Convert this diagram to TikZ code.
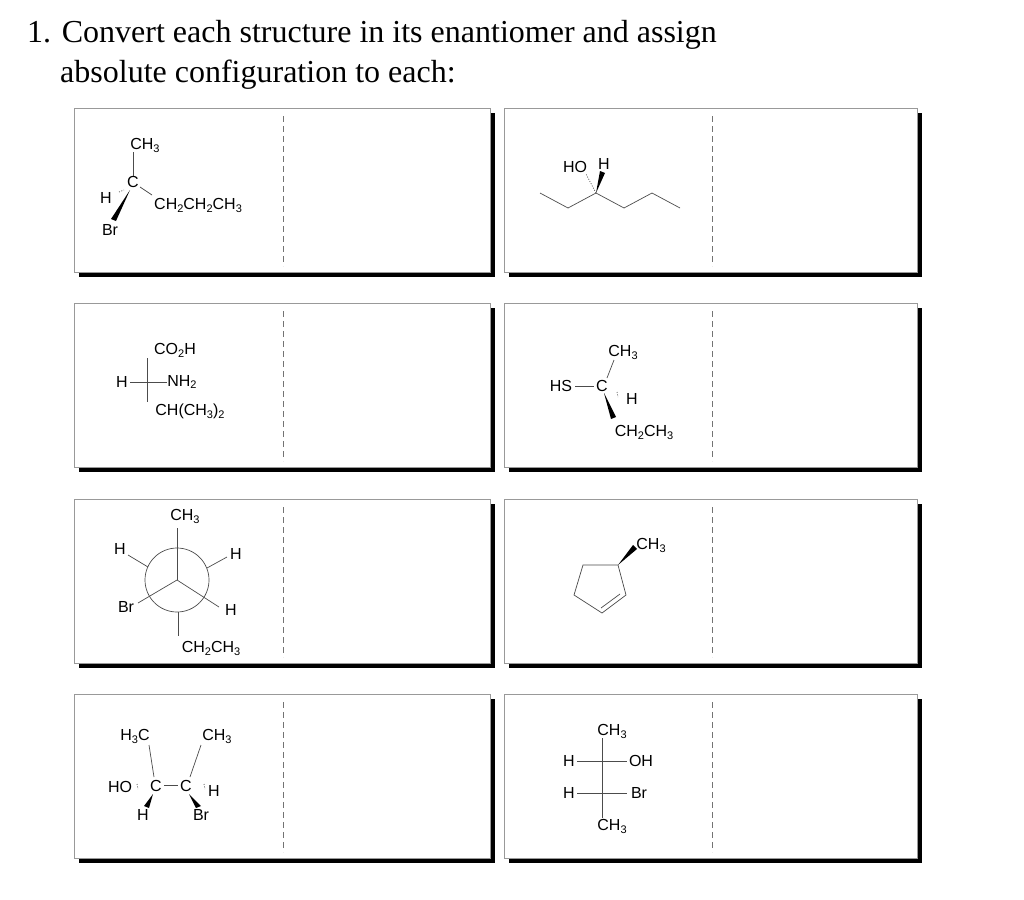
\documentclass[tikz,border=0pt]{standalone}
\usepackage{fontspec}
\setmainfont{Liberation Serif}
\newfontfamily\chem{Liberation Sans}
\newcommand\sbs[1]{\raisebox{-.35ex}{\fontsize{11}{11}\selectfont#1}}
\begin{document}
\begin{tikzpicture}[x=1pt,y=-1pt,
  lbl/.style={font=\chem\fontsize{16}{16}\selectfont,inner sep=0pt},
  bnd/.style={draw=black!70,line width=0.7pt},
  dsh/.style={draw=black!55,dashed,dash pattern=on 6pt off 4pt,line width=0.8pt},
  wdg/.style={fill=black},
  hsh/.style={draw=black!70,line width=0.7pt,dash pattern=on 1pt off 1.5pt}]
\useasboundingbox (0,0) rectangle (1024,899);
% title
\node[anchor=base west,inner sep=0pt,font=\fontsize{32}{32}\selectfont] (t1) at (27,42) {1. Convert each structure in its enantiomer and assign};
\node[anchor=base west,inner sep=0pt,font=\fontsize{32}{32}\selectfont] (t2) at (60,82) {absolute configuration to each:};
% boxes
\foreach \x/\y/\w/\d in {74/108/416/283, 504/108/413/712, 74/303/416/283, 504/303/413/712, 74/499/416/283, 504/499/413/712, 74/694/416/283, 504/694/413/712}{
  \fill[black] (\x+5,\y+5) rectangle (\x+\w+5,\y+169);
  \filldraw[fill=white,draw=black!40,line width=0.6pt] (\x,\y) rectangle (\x+\w,\y+164);
  \draw[dsh] (\d,\y+8) -- (\d,\y+158);
}
% ---- box 1
\node[lbl] (a1) at (145,145) {CH\sbs3};
\node[lbl] (a2) at (133,182) {C};
\node[lbl] (a3) at (106,198) {H};
\node[lbl,anchor=west] (a4) at (154,205) {CH\sbs2CH\sbs2CH\sbs3};
\node[lbl] (a5) at (110,230) {Br};
\draw[bnd] (133,152) -- (133,176);
\draw[bnd] (140,187) -- (152,195);
\fill (130,190) -- (111,219) -- (116,221) -- cycle;
\draw[hsh] (119,192) -- (124,190);
% ---- box 2
\node[lbl] (b1) at (575,167) {HO};
\node[lbl] (b2) at (604,164) {H};
\draw[bnd] (540,193) -- (568,208) -- (596,193) -- (624,208) -- (652,193) -- (680,208);
\fill (596,193) -- (600,171) -- (605,173) -- cycle;
\draw[hsh] (596,193) -- (586,174);
\coordinate (b3) at (596,193);
% ---- box 3 (Fischer)
\node[lbl] (c1) at (175,350) {CO\sbs2H};
\node[lbl] (c2) at (122,382) {H};
\node[lbl] (c3) at (182,382) {NH\sbs2};
\node[lbl] (c4) at (190,411) {CH(CH\sbs3)\sbs2};
\draw[bnd] (147,358) -- (147,402);
\draw[bnd] (130,382) -- (167,382);
% ---- box 4
\node[lbl] (d1) at (623,352) {CH\sbs3};
\node[lbl] (d2) at (561,386) {HS};
\node[lbl] (d3) at (602,386) {C};
\node[lbl] (d4) at (632,399) {H};
\node[lbl] (d5) at (644,432) {CH\sbs2CH\sbs3};
\draw[bnd] (575,386) -- (594,386);
\draw[bnd] (607,378) -- (614,360);
\fill (604,393) -- (611,419) -- (616,417) -- cycle;
\draw[hsh] (617,392) -- (618,397);
% ---- box 5 (Newman)
\coordinate (e0) at (177,580);
\draw[bnd] (e0) circle (32);
\draw[bnd] (e0) -- (177,528);
\draw[bnd] (e0) -- (138,603);
\draw[bnd] (e0) -- (219,607);
\draw[bnd] (148,567) -- (128,555);
\draw[bnd] (207,568) -- (227,557);
\draw[bnd] (178,612) -- (178,636);
\node[lbl] (e1) at (185,516) {CH\sbs3};
\node[lbl] (e2) at (120,549) {H};
\node[lbl] (e3) at (236,554) {H};
\node[lbl] (e4) at (126,607) {Br};
\node[lbl] (e5) at (231,610) {H};
\node[lbl] (e6) at (211,648) {CH\sbs2CH\sbs3};
% ---- box 6 (cyclopentene)
\draw[bnd] (583,565) -- (618,565) -- (626,595) -- (602,613) -- (574,595) -- cycle;
\draw[bnd] (620,594) -- (601,608);
\fill (618,565) -- (633,545) -- (637,549) -- cycle;
\node[lbl] (f1) at (651,545) {CH\sbs3};
% ---- box 7
\node[lbl] (g1) at (135,736) {H\sbs3C};
\node[lbl] (g2) at (217,736) {CH\sbs3};
\node[lbl] (g3) at (120,787) {HO};
\node[lbl] (g4) at (156,786) {C};
\node[lbl] (g5) at (186,786) {C};
\node[lbl] (g6) at (214,791) {H};
\node[lbl] (g7) at (143,815) {H};
\node[lbl] (g8) at (201,815) {Br};
\draw[bnd] (149,745) -- (154,777);
\draw[bnd] (164,785) -- (178,785);
\draw[bnd] (190,777) -- (201,745);
\fill (153,794) -- (144,806) -- (149,808) -- cycle;
\fill (189,794) -- (196,808) -- (201,806) -- cycle;
\draw[hsh] (137,784) -- (138,789);
\draw[hsh] (204,784) -- (205,789);
% ---- box 8 (Fischer)
\node[lbl] (h1) at (612,731) {CH\sbs3};
\node[lbl] (h2) at (569,761) {H};
\node[lbl] (h3) at (641,761) {OH};
\node[lbl] (h4) at (569,793) {H};
\node[lbl] (h5) at (639,793) {Br};
\node[lbl] (h6) at (612,826) {CH\sbs3};
\draw[bnd] (602,738) -- (602,818);
\draw[bnd] (577,761) -- (627,761);
\draw[bnd] (577,793) -- (627,793);
\end{tikzpicture}
\end{document}
